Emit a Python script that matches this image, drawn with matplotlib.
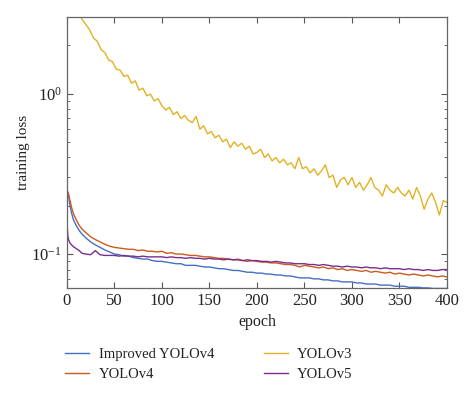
import numpy as np
import matplotlib
matplotlib.use('Agg')
import matplotlib.pyplot as plt
from matplotlib.ticker import NullFormatter, LogLocator

matplotlib.rcParams['font.family'] = 'Liberation Serif'
matplotlib.rcParams['mathtext.fontset'] = 'stix'

# YOLOv3 read every 4 epochs
v3_epochs = list(range(0, 401, 4))
v3_loss = [4.6, 4.0, 3.55, 3.2, 2.9, 2.7, 2.5, 2.22, 2.12, 1.88,
           1.80, 1.62, 1.58, 1.42, 1.40, 1.28, 1.30, 1.16, 1.20, 1.05,
           1.08, 0.97, 0.99, 0.90, 0.93, 0.84, 0.79, 0.82, 0.74, 0.77,
           0.70, 0.73, 0.68, 0.66, 0.72, 0.60, 0.63, 0.56, 0.58, 0.53,
           0.55, 0.50, 0.52, 0.46, 0.50, 0.47, 0.49, 0.45, 0.47, 0.42,
           0.43, 0.45, 0.40, 0.42, 0.38, 0.40, 0.37, 0.39, 0.36, 0.37,
           0.34, 0.40, 0.34, 0.35, 0.32, 0.34, 0.31, 0.33, 0.36, 0.30,
           0.31, 0.26, 0.29, 0.30, 0.27, 0.30, 0.26, 0.28, 0.25, 0.27,
           0.30, 0.26, 0.25, 0.23, 0.27, 0.25, 0.24, 0.26, 0.24, 0.23,
           0.25, 0.22, 0.26, 0.23, 0.19, 0.22, 0.24, 0.21, 0.175, 0.215,
           0.21]

# the other three read at these epochs
low_epochs = [0, 1, 2, 3, 5, 7, 10, 13, 16, 20, 25, 30, 35, 40, 45] + list(range(50, 401, 5))

improved_loss = [0.235, 0.24, 0.225, 0.205, 0.18, 0.163, 0.150, 0.140, 0.133, 0.126, 0.119, 0.114, 0.110, 0.106, 0.103,
                 0.100, 0.099, 0.097, 0.097, 0.095, 0.094, 0.093, 0.093, 0.091, 0.090,
                 0.090, 0.089, 0.088, 0.087, 0.087, 0.085, 0.085, 0.085, 0.084, 0.083,
                 0.083, 0.082, 0.081, 0.081, 0.080, 0.079, 0.079, 0.078, 0.077, 0.077,
                 0.076, 0.076, 0.075, 0.075, 0.074, 0.074, 0.073, 0.073, 0.072, 0.071,
                 0.071, 0.071, 0.070, 0.070, 0.069, 0.069, 0.068, 0.068, 0.067, 0.067,
                 0.067, 0.066, 0.066, 0.065, 0.065, 0.065, 0.064, 0.064, 0.064, 0.063,
                 0.063, 0.063, 0.062, 0.062, 0.062, 0.0615, 0.0615, 0.061, 0.061, 0.061,
                 0.061]

v4_loss = [0.235, 0.245, 0.235, 0.22, 0.195, 0.178, 0.163, 0.151, 0.143, 0.136, 0.128, 0.123, 0.119, 0.115, 0.112,
           0.110, 0.109, 0.108, 0.107, 0.107, 0.105, 0.106, 0.104, 0.104, 0.103,
           0.104, 0.101, 0.102, 0.100, 0.100, 0.099, 0.098, 0.098, 0.097, 0.096,
           0.096, 0.095, 0.094, 0.094, 0.093, 0.092, 0.093, 0.091, 0.090, 0.091,
           0.090, 0.089, 0.089, 0.088, 0.088, 0.087, 0.086, 0.086, 0.085, 0.083,
           0.085, 0.084, 0.083, 0.082, 0.083, 0.081, 0.082, 0.080, 0.081, 0.079,
           0.080, 0.079, 0.078, 0.079, 0.077, 0.078, 0.077, 0.076, 0.077, 0.075,
           0.076, 0.075, 0.074, 0.075, 0.074, 0.073, 0.074, 0.073, 0.072, 0.073,
           0.072]

v5_loss = [0.167, 0.13, 0.122, 0.118, 0.114, 0.111, 0.108, 0.105, 0.101, 0.100, 0.099, 0.105, 0.099, 0.098, 0.098,
           0.098, 0.097, 0.098, 0.097, 0.097, 0.096, 0.097, 0.096, 0.096, 0.096,
           0.096, 0.095, 0.096, 0.095, 0.095, 0.094, 0.095, 0.094, 0.094, 0.093,
           0.094, 0.093, 0.093, 0.092, 0.093, 0.092, 0.092, 0.091, 0.092, 0.091,
           0.091, 0.090, 0.090, 0.089, 0.090, 0.089, 0.088, 0.088, 0.087, 0.087,
           0.087, 0.086, 0.086, 0.085, 0.086, 0.085, 0.084, 0.084, 0.083, 0.084,
           0.083, 0.083, 0.082, 0.083, 0.082, 0.082, 0.081, 0.082, 0.081, 0.081,
           0.081, 0.080, 0.081, 0.080, 0.080, 0.079, 0.080, 0.079, 0.079, 0.080,
           0.080]

fig = plt.figure(figsize=(4.74, 3.96), dpi=100)
ax = fig.add_axes([0.141, 0.273, 0.802, 0.684])

lw = 1.0
ax.plot(low_epochs, improved_loss, color='#4270c8', lw=lw, label='Improved YOLOv4')
ax.plot(low_epochs, v4_loss, color='#cc5a1e', lw=lw, label='YOLOv4')
ax.plot(v3_epochs, v3_loss, color='#e2b224', lw=lw, label='YOLOv3')
ax.plot(low_epochs, v5_loss, color='#7b2d8e', lw=lw, label='YOLOv5')

ax.set_yscale('log')
ax.set_xlim(0, 400)
ax.set_ylim(0.0615, 3.0)
ax.set_xticks(range(0, 401, 50))
ax.yaxis.set_minor_locator(LogLocator(base=10, subs=np.arange(2, 10)))
ax.yaxis.set_minor_formatter(NullFormatter())

ax.tick_params(which='both', direction='in', top=True, right=True, colors='#555555',
               labelcolor='#222222', labelsize=12)
ax.tick_params(which='major', length=4)
ax.tick_params(which='minor', length=2.5)
for s in ax.spines.values():
    s.set_color('#666666')
    s.set_linewidth(0.9)

ax.set_xlabel('epoch', fontsize=11.5, color='#222222', labelpad=4)
ax.set_ylabel('training loss', fontsize=11, color='#222222', labelpad=1)

fig.legend(loc='upper left', bbox_to_anchor=(0.11, 0.155), ncol=2, frameon=False,
           fontsize=10.5, handlelength=1.65, handletextpad=0.65, columnspacing=3.4,
           labelspacing=0.45, labelcolor='#222222')

fig.savefig('out.png', dpi=100)
